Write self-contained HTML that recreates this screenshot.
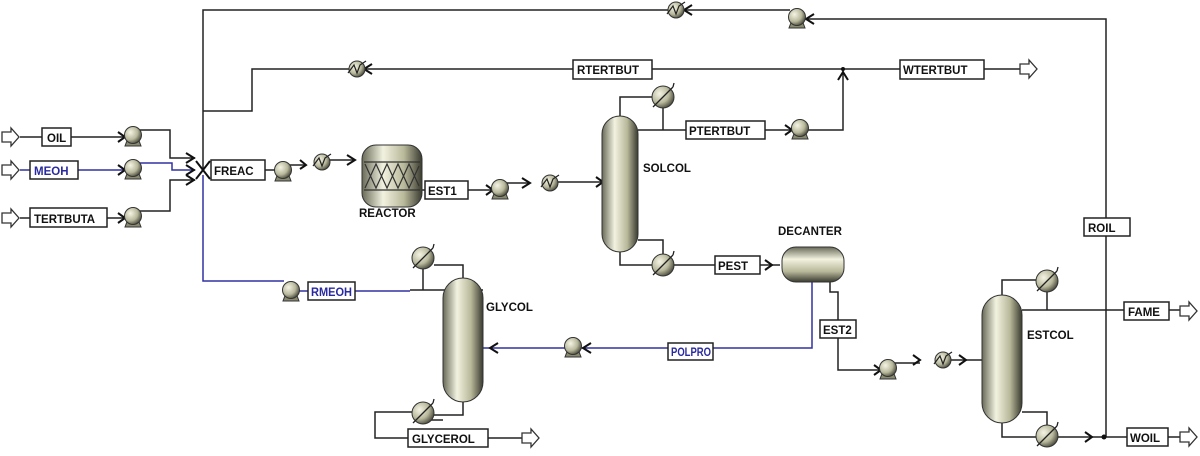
<!DOCTYPE html>
<html><head><meta charset="utf-8"><style>
html,body{margin:0;padding:0;background:#fff;}
svg{display:block;}
text{font-family:"Liberation Sans",sans-serif;font-size:11.5px;font-weight:bold;fill:#111;}
</style></head><body>
<svg width="1200" height="456" viewBox="0 0 1200 456" xmlns="http://www.w3.org/2000/svg">
<defs>
<radialGradient id="g" cx="0.35" cy="0.35" r="0.7"><stop offset="0" stop-color="#f4f4e4"/><stop offset="0.6" stop-color="#b8b89c"/><stop offset="1" stop-color="#4a4a3c"/></radialGradient>
<linearGradient id="col" x1="0" x2="1" y1="0" y2="0"><stop offset="0" stop-color="#6a6a58"/><stop offset="0.35" stop-color="#f2f2e0"/><stop offset="0.7" stop-color="#b8b89a"/><stop offset="1" stop-color="#3a3a30"/></linearGradient>
<linearGradient id="dec" x1="0" x2="0" y1="0" y2="1"><stop offset="0" stop-color="#6a6a58"/><stop offset="0.35" stop-color="#f2f2e0"/><stop offset="0.7" stop-color="#b8b89a"/><stop offset="1" stop-color="#3a3a30"/></linearGradient>
<g id="pump"><path d="M-8,11 L8,11 L5,3 L-5,3Z" fill="#8a8a70" stroke="#333" stroke-width="1"/><circle r="8.5" fill="url(#g)" stroke="#333" stroke-width="1"/></g>
<g id="hx"><circle r="8" fill="url(#g)" stroke="#333" stroke-width="1"/><path d="M-9,4 L-3,-4 L0,4 L3,-4 L9,-8" fill="none" stroke="#222" stroke-width="1.2"/></g>
<g id="cd"><circle r="11" fill="url(#g)" stroke="#333" stroke-width="1"/><path d="M-10,10 L10,-10 M10,-10 l1,-4" fill="none" stroke="#222" stroke-width="1.3"/></g>
<g id="feed"><path d="M0,-5 L9,-5 L9,-9 L17,0 L9,9 L9,5 L0,5Z" fill="#fff" stroke="#333" stroke-width="1.3"/></g>
</defs>
<g fill="none" stroke="#222" stroke-width="1.5">
<path d="M203,170 V10 H668"/>
<path d="M684,10 H790 M806,19 H1106 V437"/>
<path d="M203,111 H252 V69 H349 M365,69 H1022"/>
<path d="M843,69 V130 H808"/>
<path d="M20,137 H125 M140,130 H170 V158 H195"/>
<path d="M20,218 H125 M140,211 H170 V180 H195"/>
<path d="M265,170 H276 M290,165 H305 M330,160 H355"/>
<path d="M422,190 H493 M507,183 H530 M558,182 H603"/>
<path d="M620,118 V97 H652 M638,130 H792 M663,108 V130"/>
<path d="M620,250 V265 H652 M638,240 H663 V254 M674,265 H780"/>
<path d="M830,282 V292 H838 V370 H881 M895,363 H920 M951,360 H982"/>
<path d="M1002,297 V280 H1036 M1022,310 H1187 M1047,291 V310"/>
<path d="M1002,420 V437 H1036 M1022,412 H1047 V425 M1058,437 H1187"/>
<path d="M463,280 V265 H434 M483,290 H410 M423,269 V290"/>
<path d="M463,400 V415 H434 M443,420 H424 M412,412 H375 V438 H530"/>
</g>
<g fill="none" stroke="#3030a0" stroke-width="1.5">
<path d="M20,170 H125 M140,163 H172 V170 H195"/>
<path d="M203,175 V281 H284 M298,291 H410"/>
<path d="M812,282 V348 H580 M566,348 H483"/>
</g>
<g fill="none" stroke="#111" stroke-width="2">
<path d="M118,132 l7,5 l-7,5 M118,165 l7,5 l-7,5 M118,213 l7,5 l-7,5 M186,153 l8,5 l-8,5 M186,165 l8,5 l-8,5 M186,175 l8,5 l-8,5"/>
<path d="M300,160 l6,5 l-6,4 M347,155 l8,5 l-8,5 M486,185 l7,5 l-7,5 M522,178 l8,5 l-8,5 M596,177 l7,5 l-7,5"/>
<path d="M692,5 l-8,5 l8,5 M814,14 l-8,5 l8,5 M372,64 l-8,5 l8,5 M838,80 l5,-8 l5,8 M785,125 l7,5 l-7,5"/>
<path d="M765,260 l7,5 l-7,5 M874,365 l7,5 l-7,5 M913,355 l7,5 l-7,5 M959,355 l7,5 l-7,5 M1085,432 l7,5 l-7,5"/>
<path d="M325,286 l-8,5 l8,5 M498,343 l-8,5 l8,5 M591,343 l-8,5 l8,5"/>
</g>
<circle cx="843" cy="69" r="2" fill="#111"/><circle cx="1104" cy="437" r="2.5" fill="#111"/>
<path d="M196,161 L210,179 M210,161 L196,179" stroke="#111" stroke-width="2"/>
<use href="#feed" x="2" y="137"/><use href="#feed" x="2" y="170"/><use href="#feed" x="2" y="218"/>
<use href="#feed" x="1020" y="69"/><use href="#feed" x="1180" y="311"/><use href="#feed" x="1180" y="437"/><use href="#feed" x="522" y="438"/>
<use href="#pump" x="133" y="135"/><use href="#pump" x="133" y="168"/><use href="#pump" x="133" y="216"/>
<use href="#pump" x="283" y="170"/><use href="#pump" x="500" y="188"/><use href="#pump" x="800" y="128"/>
<use href="#pump" x="797" y="17"/><use href="#pump" x="291" y="290"/><use href="#pump" x="573" y="346"/><use href="#pump" x="888" y="368"/>
<use href="#hx" x="322" y="162"/><use href="#hx" x="550" y="183"/><use href="#hx" x="676" y="10"/><use href="#hx" x="357" y="69"/><use href="#hx" x="943" y="360"/>
<use href="#cd" x="663" y="97"/><use href="#cd" x="663" y="265"/><use href="#cd" x="1047" y="281"/><use href="#cd" x="1047" y="436"/><use href="#cd" x="423" y="258"/><use href="#cd" x="423" y="413"/>
<rect x="602" y="116" width="36" height="136" rx="18" fill="url(#col)" stroke="#333"/>
<rect x="982" y="295" width="40" height="128" rx="20" fill="url(#col)" stroke="#333"/>
<rect x="443" y="278" width="40" height="124" rx="20" fill="url(#col)" stroke="#333"/>
<rect x="782" y="247" width="62" height="35" rx="14" fill="url(#dec)" stroke="#333"/>
<rect x="362" y="145" width="60" height="62" rx="14" fill="url(#col)" stroke="#333"/>
<path d="M364,162 H420 M364,190 H420 M365,164 l11,24 l11,-24 l11,24 l11,-24 l10,22 M365,188 l11,-24 l11,24 l11,-24 l11,24 l10,-22" fill="none" stroke="#333" stroke-width="1.2"/>
<g fill="#fff" stroke="#222" stroke-width="1.5">
<rect x="42" y="128" width="29" height="18"/><rect x="30" y="161" width="48" height="18"/><rect x="30" y="208" width="77" height="19"/>
<rect x="211" y="160" width="54" height="20"/><rect x="425" y="181" width="43" height="18"/>
<rect x="573" y="60" width="79" height="19"/><rect x="900" y="60" width="84" height="19"/>
<rect x="686" y="121" width="79" height="18"/><rect x="715" y="256" width="45" height="18"/>
<rect x="820" y="320" width="36" height="18"/><rect x="1084" y="218" width="46" height="18"/>
<rect x="1124" y="302" width="45" height="18"/><rect x="1127" y="428" width="41" height="18"/>
<rect x="308" y="282" width="47" height="18"/><rect x="668" y="343" width="45" height="17"/><rect x="408" y="429" width="80" height="18"/>
</g>
<text x="47" y="142">OIL</text><text x="34" y="175" style="fill:#2a2aa0">MEOH</text><text x="34" y="223">TERTBUTA</text>
<text x="214" y="175">FREAC</text><text x="428" y="195">EST1</text><text x="359" y="217">REACTOR</text>
<text x="577" y="74">RTERTBUT</text><text x="903" y="74">WTERTBUT</text><text x="689" y="135">PTERTBUT</text>
<text x="643" y="172">SOLCOL</text><text x="718" y="270">PEST</text><text x="778" y="235">DECANTER</text>
<text x="823" y="334">EST2</text><text x="1088" y="232">ROIL</text><text x="1128" y="316">FAME</text><text x="1130" y="442">WOIL</text>
<text x="1027" y="339">ESTCOL</text><text x="486" y="311">GLYCOL</text>
<text x="311" y="296" textLength="41" lengthAdjust="spacingAndGlyphs" style="fill:#2a2aa0">RMEOH</text><text x="671" y="356" textLength="40" lengthAdjust="spacingAndGlyphs" style="fill:#2a2aa0">POLPRO</text><text x="412" y="443">GLYCEROL</text>
</svg>
</body></html>
